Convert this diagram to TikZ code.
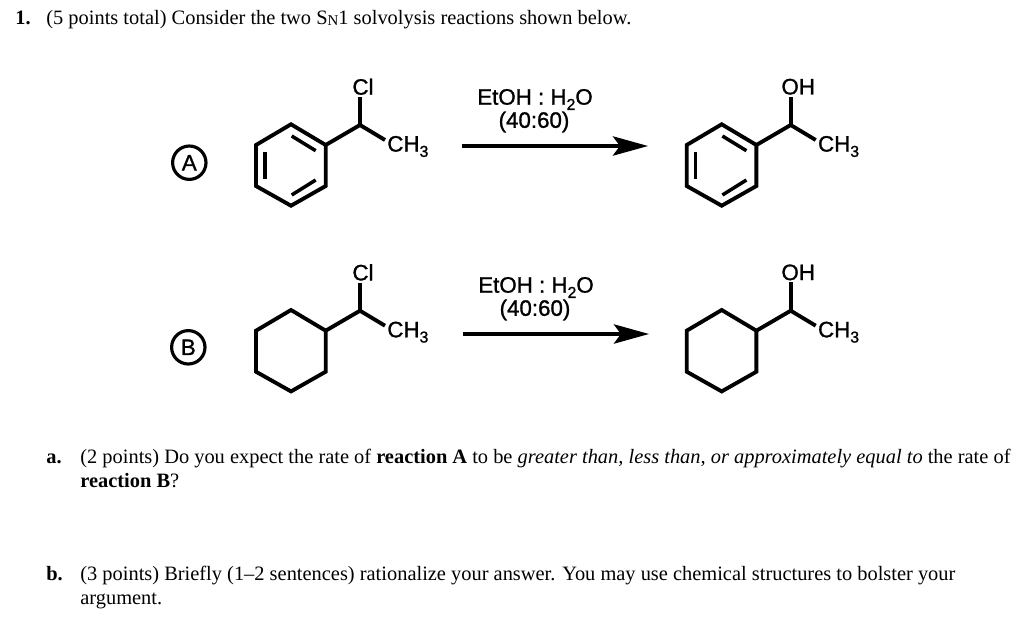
\documentclass[tikz,border=0pt]{standalone}
\usepackage{fontspec}
\setmainfont{Liberation Serif}
\newfontfamily\chemfont[FakeBold=1.2]{Liberation Sans}
\usetikzlibrary{arrows.meta}

\begin{document}
\begin{tikzpicture}[x=.02cm,y=-.02cm,
    bond/.style={line width=2.2pt,line join=miter},
    dbl/.style={line width=2pt},
    rxn/.style={line width=1.9pt,-{Stealth[length=20pt,width=11pt,inset=4pt]}},
    chem/.style={font=\chemfont\fontsize{12.7pt}{14pt}\selectfont,inner sep=1pt},
    tag/.style={circle,draw,line width=1.8pt,minimum size=19pt,inner sep=0pt,font=\chemfont\fontsize{12.7pt}{14pt}\selectfont},
    txt/.style={anchor=base west,inner sep=0pt,font=\fontsize{11.62pt}{13pt}\selectfont}]
\useasboundingbox (0,0) rectangle (1024,626);
% texte
\node[txt] (qnum) at (15,24) {\textbf{1.}};
\node[txt] (qline) at (46,24) {(5 points total) Consider the two S\raisebox{-.8pt}{\fontsize{8.5pt}{9pt}\selectfont N}1 solvolysis reactions shown below.};
\node[txt] (anum) at (46,463) {\textbf{a.}};
\node[txt] (aline) at (80,463) {(2 points) Do you expect the rate of \textbf{reaction A} to be \textit{greater than, less than, or approximately equal to} the rate of};
\node[txt] (alinetwo) at (80,487) {\textbf{reaction B}?};
\node[txt] (bnum) at (46,580) {\textbf{b.}};
\node[txt] (bline) at (80,580) {(3 points) Briefly (1--2 sentences) rationalize your answer. You may use chemical structures to bolster your};
\node[txt] (blinetwo) at (80,604) {argument.};
% cycles
\foreach \m/\dx/\dy/\het/\hx in {a/0/0/Cl/3,c/430.7/0/OH/7.5,b/0/185.7/Cl/3,d/430.7/185.7/OH/7.5}{
  \begin{scope}[shift={(\dx,\dy)}]
    \coordinate (\m1) at (291,124.3);
    \coordinate (\m2) at (325.7,145);
    \coordinate (\m3) at (325.7,186);
    \coordinate (\m4) at (291,205.7);
    \coordinate (\m5) at (256,186);
    \coordinate (\m6) at (256,145);
    \coordinate (\m s) at (360,125);
    \coordinate (\m e) at (385,140);
    \node[chem] (\m het) at (360+\hx,86.7) {\het};
    \node[chem,anchor=west,inner sep=0pt] (\m me) at (387,146.5) {CH\raisebox{-3pt}{\fontsize{9pt}{10pt}\selectfont 3}};
    \draw[bond] (\m1) -- (\m2) -- (\m3) -- (\m4) -- (\m5) -- (\m6) -- cycle;
    \draw[bond,line join=round] (\m2) -- (\m s) -- (\m e);
    \draw[bond] (\m s) -- (\m s |- \m het.south);
  \end{scope}
}
% doubles liaisons
\foreach \m/\dx in {a/0,c/430.7}{
  \begin{scope}[shift={(\dx,0)}]
    \draw[dbl] (265,151.7) -- (265,179.3);
    \draw[dbl] (291.7,136) -- (315.7,150.7);
    \draw[dbl] (291.7,195) -- (315.7,180);
  \end{scope}
}
% fleches
\coordinate (atail) at (462,146);
\coordinate (ahead) at (648,146);
\coordinate (btail) at (463,334);
\coordinate (bhead) at (649,334);
\draw[rxn] (atail) -- (ahead);
\draw[rxn] (btail) -- (bhead);
\node[chem] (asolv) at (535,99.5) {EtOH : H\raisebox{-3pt}{\fontsize{9pt}{10pt}\selectfont 2}O};
\node[chem] (aratio) at (534,122) {(40:60)};
\node[chem] (bsolv) at (536,287.5) {EtOH : H\raisebox{-3pt}{\fontsize{9pt}{10pt}\selectfont 2}O};
\node[chem] (bratio) at (535,310) {(40:60)};
% etiquettes
\node[tag] (taga) at (189.3,162.7) {A};
\node[tag] (tagb) at (188.3,347.3) {B};
\end{tikzpicture}
\end{document}
